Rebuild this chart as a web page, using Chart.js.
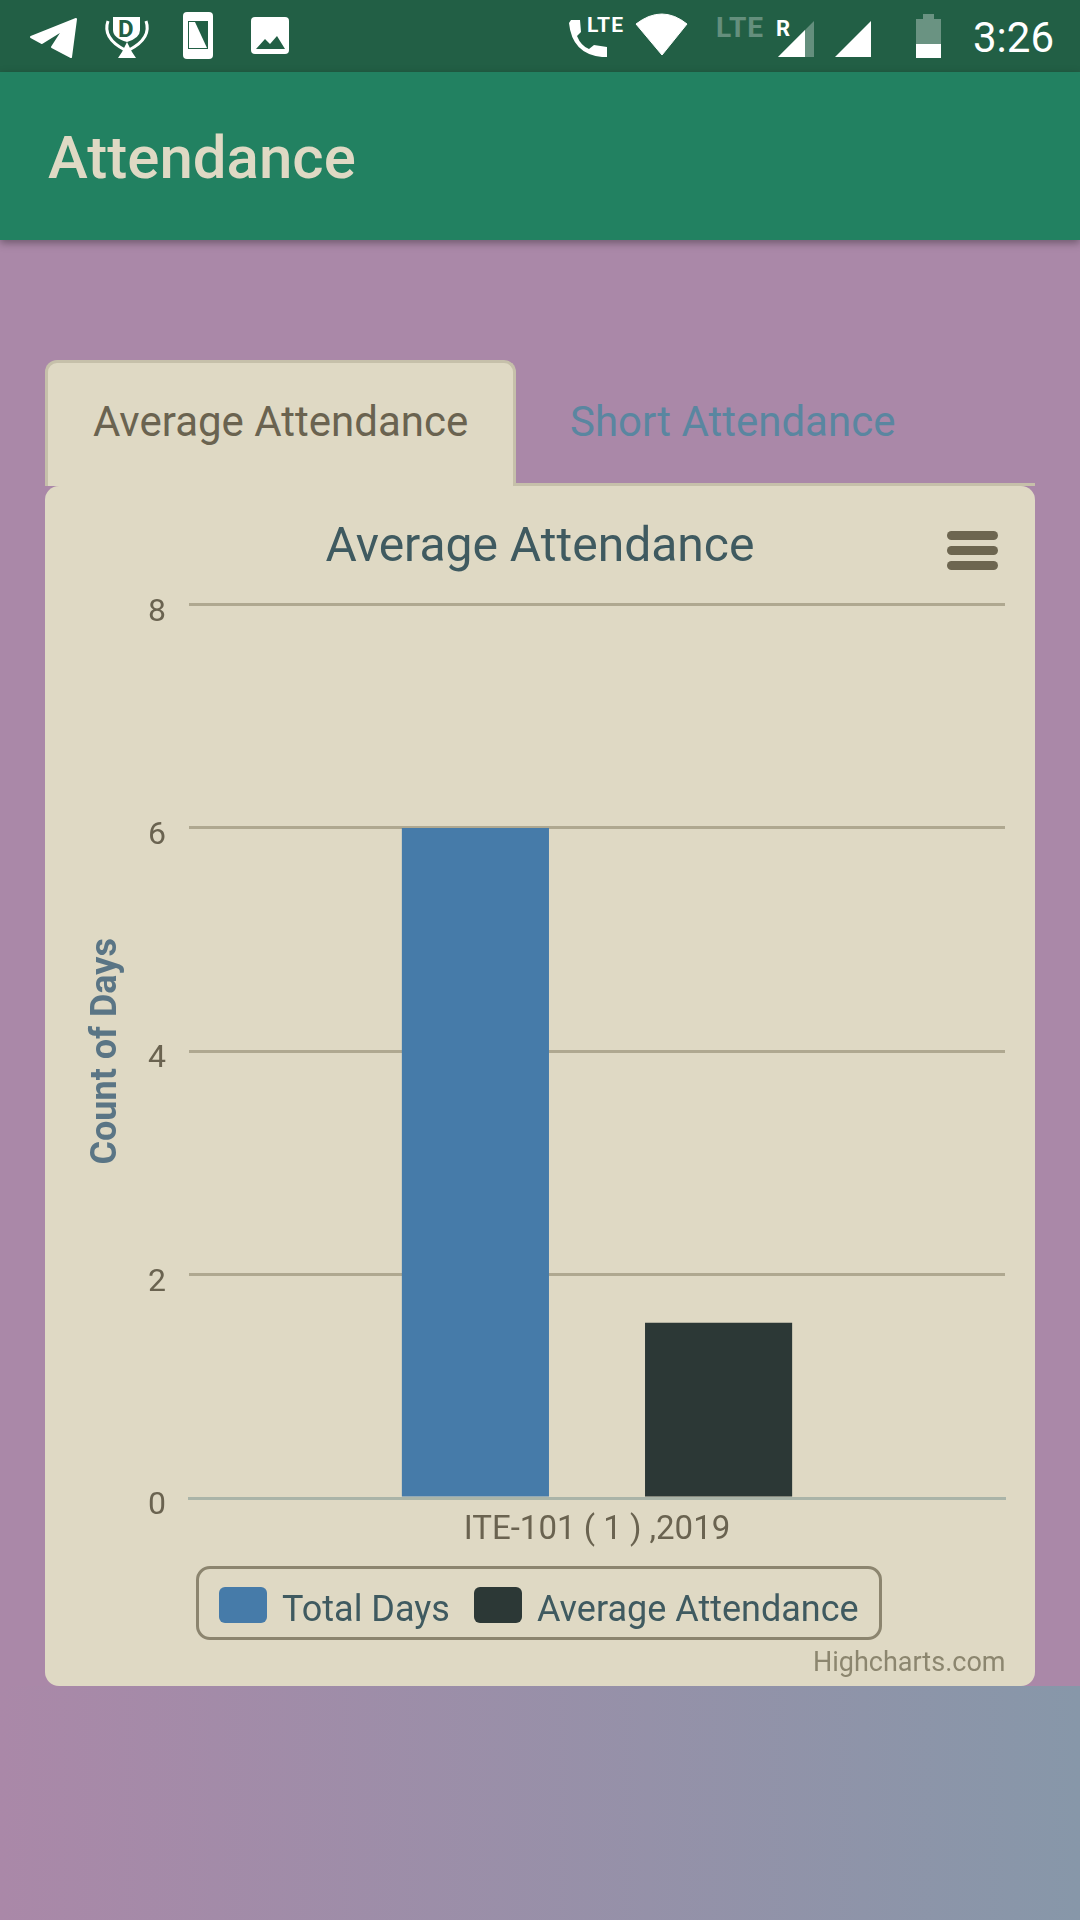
<!DOCTYPE html>
<html>
<head>
<meta charset="utf-8">
<title>Attendance</title>
<script src="https://cdn.jsdelivr.net/npm/chart.js@4"></script>
<style>
  html, body { margin: 0; padding: 0; }
  body { width: 1080px; height: 1920px; position: relative; overflow: hidden; background: #aa88a8; font-family: Roboto, sans-serif; }
  .abs { position: absolute; white-space: nowrap; }
  #bottomBg { left: 0; top: 1686px; width: 1080px; height: 234px; background: linear-gradient(90deg, #aa88a8 0%, #8797a9 100%); }
  #statusBar { left: 0; top: 0; width: 1080px; height: 72px; background: #225f45; }
  #appBar { left: 0; top: 72px; width: 1080px; height: 168px; background: #228161; box-shadow: 0 3px 8px rgba(0,0,0,.35); }
  #appTitle { left: 48px; top: 124px; font-size: 60px; line-height: 68px; font-weight: 500; color: #dfd9c4; }
  #clock { left: 973px; top: 14px; font-size: 42px; line-height: 48px; color: #fff; }
  #tab { left: 45px; top: 360px; width: 465px; height: 123px; background: #dfd9c4; border: 3px solid #c6c0aa; border-bottom: 0; border-radius: 12px 12px 0 0; }
  #tabText, #tabOther { top: 398px; font-size: 42px; line-height: 48px; }
  #tabText { left: 93px; color: #6a6350; }
  #tabOther { left: 570px; color: #5a86a0; }
  #tabLine { left: 515px; top: 483px; width: 520px; height: 3px; background: #c6c0aa; }
  #card { left: 45px; top: 486px; width: 990px; height: 1200px; background: #dfd9c4; border-radius: 14px; }
  #chart { position: absolute; left: 0; top: 0; }
  .bar { position: absolute; left: 902px; width: 51px; height: 9px; border-radius: 5px; background: #6d6650; }
  #credit { left: 813px; top: 1645px; font-size: 27px; line-height: 34px; color: #8c866f; }
  #legendFrame { left: 196px; top: 1566px; width: 686px; height: 74px; box-sizing: border-box; border: 3px solid #8c856f; border-radius: 14px; }
  .swatch { position: absolute; top: 1587px; width: 48px; height: 36px; border-radius: 6px; }
  .legendText { position: absolute; top: 1587px; font-size: 36px; line-height: 44px; color: #3f5a60; white-space: nowrap; }
</style>
</head>
<body>
<div class="abs" id="bottomBg"></div>
<div class="abs" id="statusBar"></div>
<svg class="abs" style="left:0;top:0" width="1080" height="72" fill="#fff">
  <!-- left icons -->
  <path d="M31 37 L76 19 L71 57 L52 47 L63 30 L42 43 Z" stroke="#fff" stroke-width="2" stroke-linejoin="round"/>
  <path d="M113 17 H140 V30 Q140 38 127 42 Q113 38 113 30 Z"/>
  <path d="M108 21 Q102 38 125 50 M146 21 Q152 38 129 50" stroke="#fff" stroke-width="3" fill="none"/>
  <path d="M118 58 L122 52 L127 42 L132 52 L136 58 Z"/>
  <text x="118" y="37" font-family="Roboto" font-size="24" font-weight="700" fill="#225f45">D</text>
  <rect x="183" y="12" width="30" height="47" rx="4"/>
  <rect x="188" y="21" width="20" height="28" fill="#225f45"/>
  <path d="M189 22 H195 L207 48 H189 Z"/>
  <rect x="251" y="17" width="38" height="37" rx="4"/>
  <path d="M256 49 L265 39 L270 44 L277 36 L285 49 Z" fill="#225f45"/>
  <!-- right icons -->
  <path d="M571 20 H580 L581 32 L577 36 Q581 46 589 49 L594 45 L607 47 V57 H602 Q572 54 569 23 Z"/>
  <text x="587" y="32" font-family="Roboto" font-size="21" font-weight="700" textLength="36">LTE</text>
  <path d="M636 24 Q662 4 687 24 L662 55 Z" stroke="#fff" stroke-width="1" stroke-linejoin="round"/>
  <text x="716" y="37" font-family="Roboto" font-size="28" font-weight="700" opacity=".3" textLength="47">LTE</text>
  <text x="776" y="36" font-family="Roboto" font-size="22" font-weight="700">R</text>
  <path d="M778 57 L814 21 V57 Z" opacity=".3"/>
  <path d="M778 57 L805 30 V57 Z"/>
  <path d="M835 57 L871 21 V57 Z"/>
  <path d="M916 19 H923 V14 H934 V19 H941 V44 H916 Z" opacity=".33"/>
  <rect x="916" y="44" width="25" height="14"/>
</svg>
<div class="abs" id="clock">3:26</div>
<div class="abs" id="appBar"></div>
<div class="abs" id="appTitle">Attendance</div>

<div class="abs" id="tab"></div>
<div class="abs" id="tabText">Average Attendance</div>
<div class="abs" id="tabOther">Short Attendance</div>
<div class="abs" id="tabLine"></div>

<div class="abs" id="card">
  <canvas id="chart" width="990" height="1200"></canvas>
  <div class="bar" style="top:45px"></div>
  <div class="bar" style="top:60px"></div>
  <div class="bar" style="top:75px"></div>
</div>
<div class="abs" id="legendFrame"></div>
<div id="legend"></div>
<div class="abs" id="credit">Highcharts.com</div>

<script>
const categories = ["ITE-101 ( 1 ) ,2019"];
const totalDays = [6];
const averageAttendance = [1.57];
const yMin = 0;
const yMax = 8;
const yStep = 2;

const chart = new Chart(document.getElementById("chart"), {
    type: "bar",
    data: {
        labels: categories,
        datasets: [
            { label: "Total Days", data: totalDays, backgroundColor: "#467ba9" },
            { label: "Average Attendance", data: averageAttendance, backgroundColor: "#2c3836" }
        ]
    },
    options: {
        responsive: false,
        devicePixelRatio: 1,
        animation: false,
        categoryPercentage: 0.596,
        barPercentage: 0.605,
        layout: { padding: { left: 30, right: 30, top: 0, bottom: 138 } },
        plugins: {
            tooltip: { enabled: false },
            // legend is html below, it needs a frame and its text sits lower than the boxes
            legend: { display: false },
            title: {
                display: true,
                text: "Average Attendance",
                color: "#3f5a60",
                font: { family: "Roboto", size: 48, weight: "400" },
                padding: { top: 34, bottom: 27 }
            }
        },
        scales: {
            x: {
                afterFit(scale) { scale.height = 50; },
                grid: { display: false },
                border: { display: true, color: "#aab4a8", width: 3, z: 1 },
                ticks: {
                    color: "#6a6350",
                    font: { family: "Roboto", size: 33 },
                    padding: 5
                }
            },
            y: {
                min: yMin,
                max: yMax,
                afterFit(scale) { scale.width = 114; },
                border: { display: false },
                grid: { color: "#afa890", lineWidth: 3, drawTicks: false },
                ticks: {
                    stepSize: yStep,
                    color: "#6a6350",
                    font: { family: "Roboto", size: 32 },
                    padding: 23,
                    labelOffset: 8
                },
                title: {
                    display: true,
                    text: "Count of Days",
                    color: "#5a7585",
                    font: { family: "Roboto", size: 36, weight: "700" },
                    padding: { top: 10, bottom: 0 }
                }
            }
        }
    }
});

// Legend, one swatch and label per dataset
const legendX = [[219, 282], [474, 537]];
chart.data.datasets.forEach((ds, i) => {
    const swatch = document.createElement("div");
    swatch.className = "swatch";
    swatch.style.left = legendX[i][0] + "px";
    swatch.style.background = ds.backgroundColor;
    const text = document.createElement("div");
    text.className = "legendText";
    text.style.left = legendX[i][1] + "px";
    text.textContent = ds.label;
    document.getElementById("legend").append(swatch, text);
});
</script>
</body>
</html>
